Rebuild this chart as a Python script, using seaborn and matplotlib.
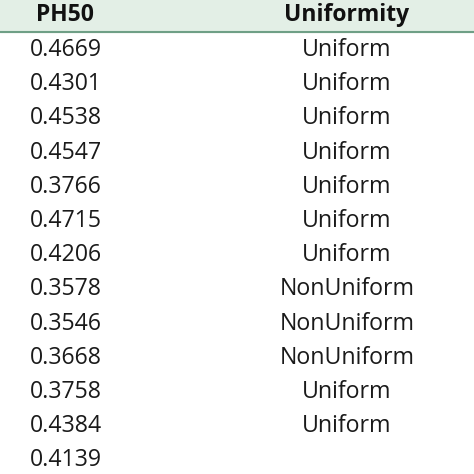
import matplotlib
matplotlib.use("Agg")
import matplotlib.pyplot as plt
import seaborn as sns

ph50 = ["0.4669", "0.4301", "0.4538", "0.4547", "0.3766", "0.4715", "0.4206",
        "0.3578", "0.3546", "0.3668", "0.3758", "0.4384", "0.4139"]
uniformity = ["Uniform", "Uniform", "Uniform", "Uniform", "Uniform", "Uniform", "Uniform",
              "NonUniform", "NonUniform", "NonUniform", "Uniform", "Uniform", ""]
headers = ["PH50", "Uniformity"]

sns.set_theme(style="white")
plt.rcParams['font.family'] = ['Open Sans', 'DejaVu Sans']

fig = plt.figure(figsize=(4.74, 4.74), dpi=100)
ax = fig.add_axes([0, 0, 1, 1])
ax.set_xlim(0, 474)
ax.set_ylim(474, 0)
ax.axis("off")

# header band
ax.axhspan(0, 32, color="#e3efe6", zorder=0)
ax.axhline(32, color="#6f9f86", lw=1.5)
ax.text(65, 15, headers[0], ha="center", va="center", fontsize=16.5, fontweight="bold", color="#111111")
ax.text(347, 15, headers[1], ha="center", va="center", fontsize=16.5, fontweight="bold", color="#111111")

for i, (p, u) in enumerate(zip(ph50, uniformity)):
    y = 50 + i * 34.2
    ax.text(30, y, p, ha="left", va="center", fontsize=16.7, color="#1a1a1a")
    ax.text(347, y, u, ha="center", va="center", fontsize=16.7, color="#1a1a1a")

fig.savefig("out.png", dpi=100)
